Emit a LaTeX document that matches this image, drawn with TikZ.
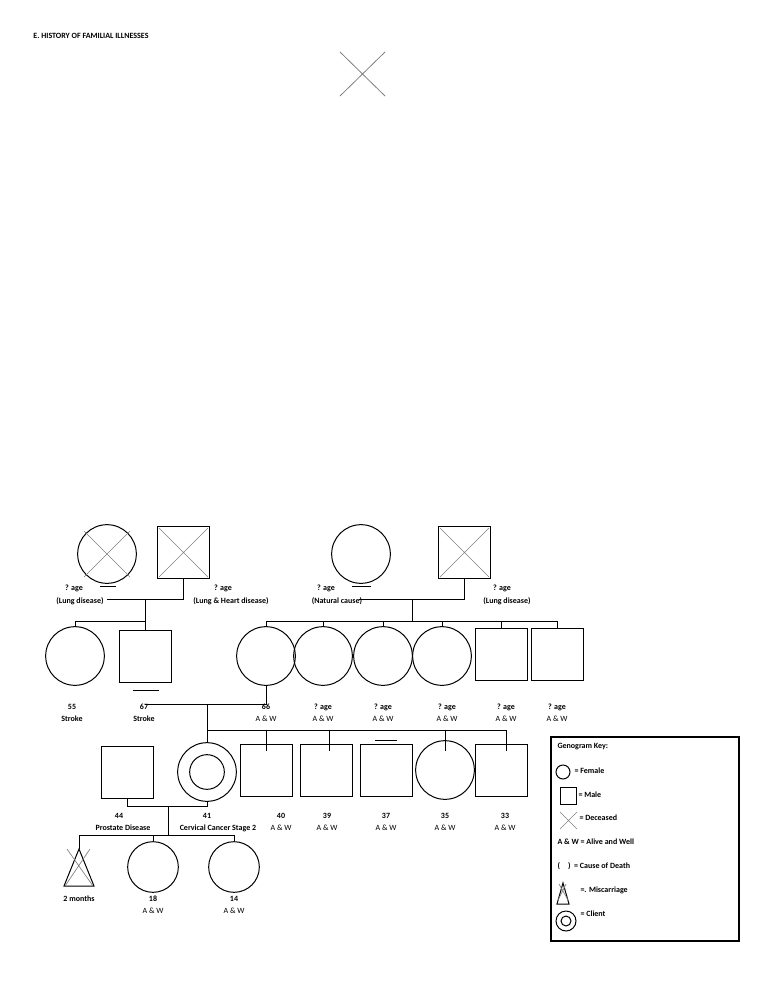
\documentclass[tikz,border=0pt]{standalone}
\usepackage{fontspec}
\setmainfont{Carlito}
\begin{document}
\begin{tikzpicture}[x=0.75pt,y=-0.75pt,line width=0.75pt,
  fem/.style={draw,circle,minimum size=44},
  mal/.style={draw,rectangle,minimum size=39},
  lab/.style={font=\fontsize{6}{7}\selectfont\bfseries,inner sep=0pt,align=center},
  aw/.style={font=\fontsize{6}{7}\selectfont,inner sep=0pt},
  dead/.style={draw=gray,line width=0.5pt},
  line/.style={draw,line width=0.75pt}]
\useasboundingbox (0,0) rectangle (768,1006);
\node[lab,anchor=west] (title) at (33,36) {E. HISTORY OF FAMILIAL ILLNESSES};
\coordinate (tx1) at (340,52); \coordinate (tx2) at (385,96);
\coordinate (tx3) at (385,52); \coordinate (tx4) at (340,96);
\draw[dead,line width=0.6pt] (tx1)--(tx2) (tx3)--(tx4);
% generation 1
\node[fem] (g1f) at (107,554) {};
\node[mal] (g1m) at (183,552) {};
\draw[dead] (84,531)--(130,577) (130,531)--(84,577);
\draw[dead] (159,528)--(208,577) (208,528)--(159,577);
\node[fem] (g2f) at (361,554) {};
\node[mal] (g2m) at (464,552) {};
\draw[dead] (440,528)--(489,577) (489,528)--(440,577);
\draw (100,586)--(116,586) (352,586)--(371,586);
\node[lab] (l1) at (74,588) {? age}; \node[lab] (l1b) at (80,601) {(Lung disease)};
\node[lab] (l2) at (223,588) {? age}; \node[lab] (l2b) at (231,601) {(Lung \& Heart disease)};
\node[lab] (l3) at (326,588) {? age}; \node[lab] (l3b) at (337,601) {(Natural cause)};
\node[lab] (l4) at (502,588) {? age}; \node[lab] (l4b) at (507,601) {(Lung disease)};
\coordinate (m1a) at (107,599); \coordinate (m1b) at (183,599); \coordinate (d1) at (145,599);
\draw (g1m.south)--(m1b)--(m1a);
\draw (d1)--(145,621);
\coordinate (m2a) at (359,599); \coordinate (m2b) at (464,599); \coordinate (d2) at (412,599);
\draw (g2m.south)--(m2b)--(m2a);
\draw (d2)--(412,621);
% generation 2
\node[fem] (a1) at (75,656) {};
\node[mal] (a2) at (145,656) {};
\draw (75,621)--(145,621)--(a2.north) (75,621)--(a1.north);
\draw (133,690)--(159,690);
\node[fem] (b1) at (266,656) {};
\node[fem] (b2) at (323,656) {};
\node[fem] (b3) at (383,656) {};
\node[fem] (b4) at (442,656) {};
\node[mal] (b5) at (501,654) {};
\node[mal] (b6) at (557,654) {};
\draw (266,621)--(557,621);
\foreach \n/\x in {b1/266,b2/323,b3/383,b4/442,b5/501,b6/557} \draw (\x,621)--(\n.north);
\node[lab] at (72,707) {55}; \node[lab] at (72,719) {Stroke};
\node[lab] at (144,707) {67}; \node[lab] at (144,719) {Stroke};
\node[lab] at (266,707) {66}; \node[aw] at (266,719) {A \& W};
\foreach \x in {323,383,447,506,557} {\node[lab] at (\x,707) {? age}; \node[aw] at (\x,719) {A \& W};}
\draw (b1.south)--(266,704)--(145,704);
\draw (207,704)--(207,730);
% generation 3
\draw (207,730)--(506,730);
\node[mal] (h) at (127,772) {};
\node[fem] (c) at (207,772) {};
\node[circle,draw,minimum size=26] (ci) at (207,772) {};
\node[mal] (s1) at (266,770) {};
\node[mal] (s2) at (326,770) {};
\node[mal] (s3) at (386,770) {};
\node[fem] (s4) at (445,770) {};
\node[mal] (s5) at (501,770) {};
\draw (207,730)--(c.north);
\foreach \n/\x in {s1/266,s2/329,s4/445,s5/506} \draw (\x,730)--(\x,751);
\draw (375,740)--(397,740);
\draw (h.south)--(127,806)--(207,806)--(c.south);
\draw (168,806)--(168,835);
\node[lab] at (119,816) {44}; \node[lab] at (123,828) {Prostate Disease};
\node[lab] at (207,816) {41}; \node[lab] at (218,828) {Cervical Cancer Stage 2};
\foreach \t/\x in {40/281,39/327,37/386,35/445,33/505} {\node[lab] at (\x,816) {\t}; \node[aw] at (\x,828) {A \& W};}
% generation 4
\draw (79,835)--(234,835);
\coordinate (tri) at (79,849);
\draw (79,835)--(tri);
\draw (tri)--(64,886)--(94,886)--cycle;
\draw[dead] (67,849)--(93,886) (90,849)--(65,886);
\node[circle,draw,minimum size=38] (k1) at (153,867) {};
\node[circle,draw,minimum size=38] (k2) at (234,867) {};
\draw (153,835)--(k1.north) (234,835)--(k2.north);
\node[lab] at (79,899) {2 months};
\node[lab] at (153,899) {18}; \node[aw] at (153,911) {A \& W};
\node[lab] at (234,899) {14}; \node[aw] at (234,911) {A \& W};
% key
\draw[line width=1.2pt] (551,737) rectangle (739,941);
\node[lab,anchor=west] at (557,747) {Genogram Key:};
\draw (563,772) ellipse (7 and 7);
\node[lab,anchor=west] at (574,771) {= Female};
\draw (560,787) rectangle (576,804);
\node[lab,anchor=west] at (578,795) {= Male};
\draw[dead] (560,812)--(577,829) (577,812)--(560,829);
\node[lab,anchor=west] at (579,818) {= Deceased};
\node[lab,anchor=west] at (557,842) {A \& W = Alive and Well};
\node[lab,anchor=west] at (557,866) {(\hspace{6pt}) \ = Cause of Death};
\draw (563,883)--(557,904)--(569,904)--cycle;
\draw[dead] (559,884)--(568,900) (566,884)--(558,900);
\node[lab,anchor=west] at (580,890) {=. Miscarriage};
\draw (566,921) circle (10) (566,921) circle (5);
\node[lab,anchor=west] at (580,914) {= Client};
\end{tikzpicture}
\end{document}
